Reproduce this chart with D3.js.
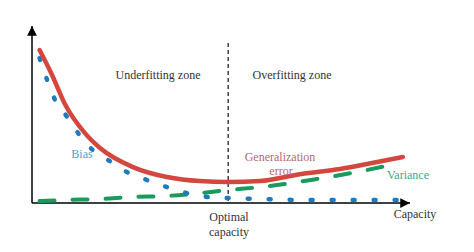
<!DOCTYPE html>
<html>
<head>
<meta charset="utf-8">
<script src="https://cdn.jsdelivr.net/npm/d3@7"></script>
<style>
  body { margin: 0; background: #fff; }
  text { font-family: "Liberation Serif", "DejaVu Serif", serif; }
</style>
</head>
<body>
<div id="chart"></div>
<script>
// capacity (0..100) sample points
var capErr = [2, 5.3, 8.7, 14, 18, 26.7, 35.7, 44.4, 51.9, 60.3, 71.2, 81.5, 88.6, 98.1];
var genError = [86.4, 72.3, 55.9, 39.5, 31.1, 20.3, 14.7, 12.4, 11.9, 12.4, 16.4, 19.2, 22, 26];

var capBias = [2, 4, 6.1, 9.3, 12.2, 16.1, 20.1, 25.1, 30.4, 35.7, 41, 46.3, 51.9, 60.3, 71, 85, 97];
var bias = [81.9, 69.5, 58.2, 48.6, 39.5, 29.9, 24.3, 17.5, 13, 9, 5.6, 3.4, 2.8, 2.3, 1.7, 1.7, 1.7];

var capVar = [2, 9.3, 18, 26.7, 35.7, 44.4, 51.9, 60.3, 66.7, 75.4, 84.4, 95];
var variance = [1.1, 1.7, 2.3, 3.4, 4, 5.6, 7.3, 9, 10.7, 13.6, 16.9, 21.5];

var optimalCap = 51.9;

var w = 474, h = 252;
var x = d3.scaleLinear().domain([0, 100]).range([32, 410]);
var y = d3.scaleLinear().domain([0, 100]).range([203, 26]);

var svg = d3.select("#chart").append("svg")
  .attr("width", w)
  .attr("height", h);

var defs = svg.append("defs");
defs.append("marker")
  .attr("id", "arrow")
  .attr("viewBox", "0 0 10 10")
  .attr("refX", 10).attr("refY", 5)
  .attr("markerWidth", 8).attr("markerHeight", 6.5)
  .attr("markerUnits", "strokeWidth")
  .attr("orient", "auto")
  .append("path")
  .attr("d", "M0,0 L10,5 L0,10 z")
  .attr("fill", "#000");

// axes
svg.append("line")
  .attr("x1", x(0)).attr("y1", y(0))
  .attr("x2", x(100)).attr("y2", y(0))
  .attr("stroke", "#000").attr("stroke-width", 1.5)
  .attr("marker-end", "url(#arrow)");
svg.append("line")
  .attr("x1", x(0)).attr("y1", y(0))
  .attr("x2", x(0)).attr("y2", y(100))
  .attr("stroke", "#000").attr("stroke-width", 1.5)
  .attr("marker-end", "url(#arrow)");

// optimal capacity line
svg.append("line")
  .attr("x1", x(optimalCap)).attr("y1", y(90.4))
  .attr("x2", x(optimalCap)).attr("y2", y(0))
  .attr("stroke", "#222").attr("stroke-width", 1.3)
  .attr("stroke-dasharray", "4,3");

function makeLine(xs) {
  return d3.line()
    .x(function(d, i) { return x(xs[i]); })
    .y(function(d) { return y(d); })
    .curve(d3.curveMonotoneX);
}

// variance
svg.append("path")
  .attr("d", makeLine(capVar)(variance))
  .attr("fill", "none")
  .attr("stroke", "#1a9a5c")
  .attr("stroke-width", 4)
  .attr("stroke-linecap", "round")
  .attr("stroke-dasharray", "15,18");

// bias
svg.append("path")
  .attr("d", makeLine(capBias)(bias))
  .attr("fill", "none")
  .attr("stroke", "#1f7bbd")
  .attr("stroke-width", 4.5)
  .attr("stroke-linecap", "round")
  .attr("stroke-dasharray", "2,19");

// generalization error
svg.append("path")
  .attr("d", makeLine(capErr)(genError))
  .attr("fill", "none")
  .attr("stroke", "#d4473f")
  .attr("stroke-width", 4.5)
  .attr("stroke-linecap", "round");

// labels
var labels = [
  { t: "Underfitting zone", x: 158, y: 79, c: "#333" },
  { t: "Overfitting zone", x: 292, y: 79, c: "#333" },
  { t: "Bias", x: 82, y: 158, c: "#5a9cc8" },
  { t: "Generalization", x: 280, y: 161, c: "#b46a6e" },
  { t: "error", x: 281, y: 175, c: "#b46a6e" },
  { t: "Variance", x: 408, y: 179, c: "#3fa58a" },
  { t: "Capacity", x: 415, y: 218, c: "#333" },
  { t: "Optimal", x: 229, y: 221, c: "#333" },
  { t: "capacity", x: 229, y: 236, c: "#333" }
];
svg.selectAll("text.lbl")
  .data(labels)
  .enter()
  .append("text")
  .attr("class", "lbl")
  .text(function(d) { return d.t; })
  .attr("x", function(d) { return d.x; })
  .attr("y", function(d) { return d.y; })
  .attr("text-anchor", "middle")
  .attr("font-size", 12)
  .attr("fill", function(d) { return d.c; });
</script>
</body>
</html>
